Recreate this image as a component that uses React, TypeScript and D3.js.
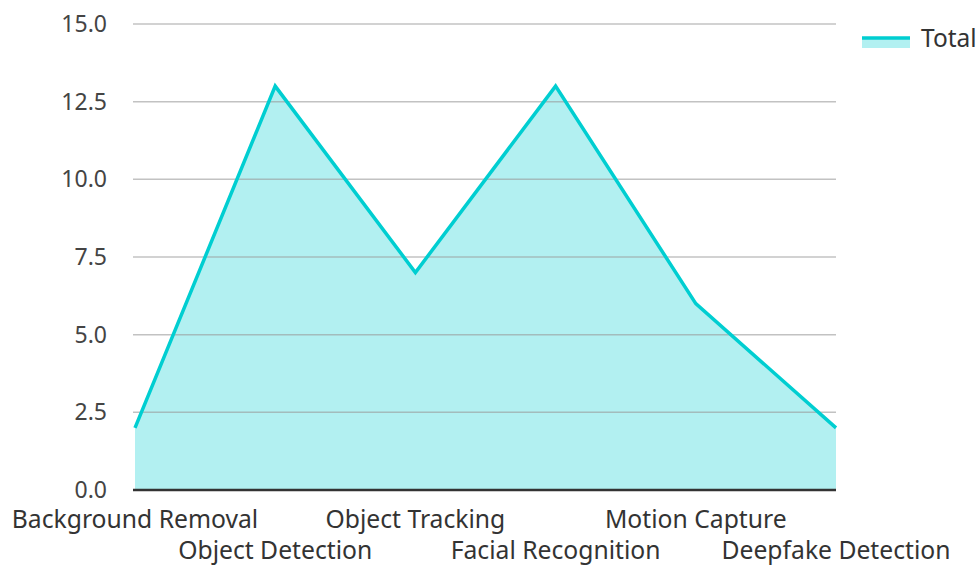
import * as React from 'react';
import * as d3 from 'd3';

const categories = [
  'Background Removal',
  'Object Detection',
  'Object Tracking',
  'Facial Recognition',
  'Motion Capture',
  'Deepfake Detection',
];
const totals = [2, 13, 7, 13, 6, 2];
const yTicks = [0, 2.5, 5, 7.5, 10, 12.5, 15];
const seriesName = 'Total';

const W = 977;
const H = 566;
const m = { left: 135, right: 141, top: 24, bottom: 76 };
const font = '"Noto Sans", "Open Sans", sans-serif';
const lineColor = '#00CED1';

export default function App() {
  const x = d3.scalePoint<string>()
    .domain(categories)
    .range([m.left, W - m.right]);
  const y = d3.scaleLinear()
    .domain([0, 15])
    .range([H - m.bottom, m.top]);

  const pts: [number, number][] = categories.map((c, i) => [x(c) as number, y(totals[i])]);
  const area = d3.area<[number, number]>()
    .x(d => d[0])
    .y0(y(0))
    .y1(d => d[1])(pts);
  const line = d3.line()(pts);

  return (
    <svg width={W} height={H} style={{ position: 'absolute', left: 0, top: 0, fontFamily: font }}>
      <path d={area ?? ''} fill={lineColor} fillOpacity={0.3} />
      {yTicks.map(t => (
        <g key={t}>
          {t > 0 && (
            <line x1={m.left - 2} x2={W - m.right} y1={y(t)} y2={y(t)}
              stroke="#999" strokeOpacity={0.6} strokeWidth={1.5} />
          )}
          <text x={107} y={y(t)} dy="0.35em" textAnchor="end" fontSize={23} fill="#444">
            {t.toFixed(1)}
          </text>
        </g>
      ))}
      <line x1={m.left - 2} x2={W - m.right} y1={y(0)} y2={y(0)} stroke="#333" strokeWidth={2.5} />
      <path d={line ?? ''} fill="none" stroke={lineColor} strokeWidth={3.5} strokeLinejoin="miter" />
      {categories.map((c, i) => (
        <text key={c} x={x(c)} y={i % 2 === 0 ? 528 : 559} textAnchor="middle" fontSize={24.7} fill="#333">
          {c}
        </text>
      ))}
      <g transform="translate(862, 38)">
        <rect x={0} y={0} width={48} height={10} fill={lineColor} fillOpacity={0.3} />
        <line x1={0} x2={48} y1={0} y2={0} stroke={lineColor} strokeWidth={3.5} />
        <text x={59} y={0} dy="0.35em" fontSize={24.5} fill="#333">{seriesName}</text>
      </g>
    </svg>
  );
}
